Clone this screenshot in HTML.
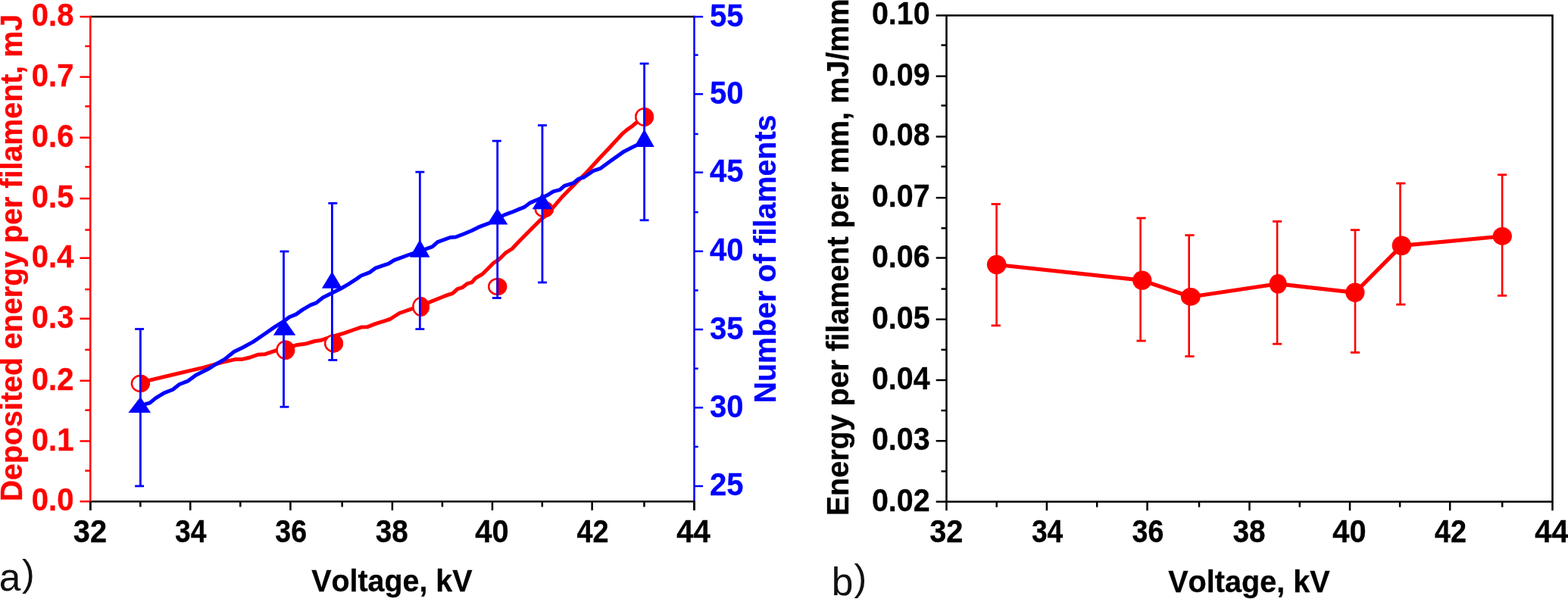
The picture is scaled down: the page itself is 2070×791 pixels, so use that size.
<!DOCTYPE html>
<html lang="en">
<head>
<meta charset="utf-8">
<title>Deposited energy per filament and number of filaments vs voltage</title>
<style>
html,body{margin:0;padding:0;background:#ffffff;}
body{width:2070px;height:791px;overflow:hidden;}
svg{display:block;position:absolute;left:0;top:0;}
text{white-space:pre;font-kerning:none;}
</style>
</head>
<body>
<svg width="2070" height="791" viewBox="0 0 2070 791">
<rect x="0" y="0" width="2070" height="791" fill="#ffffff"/>
<g id="p1-red">
<polyline fill="none" stroke="#ff0000" stroke-width="5.0" stroke-linejoin="round" stroke-linecap="round" points="185.3,506.4 196.4,502.4 230.6,494.2 268.5,485.4 293.7,478.4 310.2,474.6 319.0,474.6 330.0,472.0 341.2,468.2 350.1,467.7 364.2,462.9 376.7,460.0 390.8,455.8 403.2,454.1 415.6,450.5 422.7,449.6 433.3,446.1 444.0,443.0 454.5,439.9 466.9,435.5 476.8,432.1 484.8,431.8 495.4,427.7 514.9,421.5 527.3,413.5 545.0,407.3 555.5,403.5 566.2,399.4 583.9,392.3 590.0,389.9 597.6,387.3 603.9,381.6 610.3,379.7 616.6,374.7 622.9,372.8 628.0,367.1 636.8,362.0 644.4,354.4 652.0,346.8 658.4,343.0 667.2,334.2 676.1,328.5 686.2,317.7 697.6,306.3 713.8,290.1 721.3,284.0 732.0,271.9 742.1,260.0 760.3,241.6 775.5,226.5 790.7,209.8 805.8,193.8 821.0,177.2 827.1,171.9 834.7,166.5 840.0,162.0 850.5,154.4"/>
<ellipse cx="185.30" cy="506.45" rx="11.40" ry="10.45" fill="#ffffff" stroke="#ff0000" stroke-width="2.5"/>
<path d="M185.30,496.00 A11.40,10.45 0 0 1 185.30,516.90 Z" fill="#ff0000" stroke="#ff0000" stroke-width="2.5"/>
<ellipse cx="376.70" cy="462.20" rx="11.25" ry="11.55" fill="#ffffff" stroke="#ff0000" stroke-width="2.5"/>
<path d="M376.70,450.65 A11.25,11.55 0 0 1 376.70,473.75 Z" fill="#ff0000" stroke="#ff0000" stroke-width="2.5"/>
<ellipse cx="440.45" cy="453.50" rx="11.35" ry="10.90" fill="#ffffff" stroke="#ff0000" stroke-width="2.5"/>
<path d="M440.45,442.60 A11.35,10.90 0 0 1 440.45,464.40 Z" fill="#ff0000" stroke="#ff0000" stroke-width="2.5"/>
<ellipse cx="555.50" cy="405.00" rx="10.15" ry="11.65" fill="#ffffff" stroke="#ff0000" stroke-width="2.5"/>
<path d="M555.50,393.35 A10.15,11.65 0 0 1 555.50,416.65 Z" fill="#ff0000" stroke="#ff0000" stroke-width="2.5"/>
<ellipse cx="656.60" cy="378.55" rx="11.40" ry="10.25" fill="#ffffff" stroke="#ff0000" stroke-width="2.5"/>
<path d="M656.60,368.30 A11.40,10.25 0 0 1 656.60,388.80 Z" fill="#ff0000" stroke="#ff0000" stroke-width="2.5"/>
<ellipse cx="718.30" cy="276.40" rx="11.40" ry="9.75" fill="#ffffff" stroke="#ff0000" stroke-width="2.5"/>
<path d="M718.30,266.65 A11.40,9.75 0 0 1 718.30,286.15 Z" fill="#ff0000" stroke="#ff0000" stroke-width="2.5"/>
<ellipse cx="850.50" cy="154.40" rx="11.25" ry="11.25" fill="#ffffff" stroke="#ff0000" stroke-width="2.5"/>
<path d="M850.50,143.15 A11.25,11.25 0 0 1 850.50,165.65 Z" fill="#ff0000" stroke="#ff0000" stroke-width="2.5"/>
</g>
<g id="p1-blue">
<polyline fill="none" stroke="#0000ff" stroke-width="5.0" stroke-linejoin="round" stroke-linecap="round" points="185.4,538.0 192.6,533.4 197.7,532.1 205.3,525.8 216.7,518.9 228.0,514.5 236.9,507.5 248.2,503.1 258.4,495.5 274.8,487.3 284.9,481.0 296.3,474.6 308.9,464.5 320.3,459.0 334.2,451.4 348.3,441.7 362.5,431.9 374.9,424.0 381.9,418.7 390.8,415.1 399.6,408.9 410.3,402.7 417.3,400.1 426.2,393.0 438.6,386.8 449.2,381.5 459.8,375.3 470.6,368.4 476.8,364.0 488.3,359.6 495.4,354.2 513.1,348.1 520.2,343.6 539.6,336.5 554.3,331.5 570.6,325.9 577.7,319.7 594.5,313.5 601.6,313.0 612.1,309.0 622.8,304.5 631.9,299.9 644.0,295.4 656.7,289.5 665.2,284.0 675.8,280.2 684.9,276.4 692.5,273.4 699.3,268.1 706.2,265.0 716.0,261.0 724.4,256.7 730.4,252.9 739.1,250.7 745.2,245.4 757.3,241.6 763.4,236.3 771.0,234.0 783.1,225.7 792.2,222.7 805.8,212.8 824.0,199.9 836.2,193.8 850.6,187.0"/>
<line x1="185.40" y1="434.50" x2="185.40" y2="641.90" stroke="#0000ff" stroke-width="2.8" stroke-linecap="butt"/>
<line x1="178.15" y1="434.50" x2="190.05" y2="434.50" stroke="#0000ff" stroke-width="2.8" stroke-linecap="butt"/>
<line x1="178.15" y1="641.90" x2="190.05" y2="641.90" stroke="#0000ff" stroke-width="2.8" stroke-linecap="butt"/>
<polygon points="185.40,524.00 199.00,545.10 169.40,545.10" fill="#0000ff"/>
<line x1="374.50" y1="332.00" x2="374.50" y2="537.30" stroke="#0000ff" stroke-width="2.8" stroke-linecap="butt"/>
<line x1="369.55" y1="332.00" x2="381.45" y2="332.00" stroke="#0000ff" stroke-width="2.8" stroke-linecap="butt"/>
<line x1="369.55" y1="537.30" x2="381.45" y2="537.30" stroke="#0000ff" stroke-width="2.8" stroke-linecap="butt"/>
<polygon points="374.70,420.40 390.30,442.80 360.90,442.80" fill="#0000ff"/>
<line x1="438.40" y1="268.40" x2="438.40" y2="475.50" stroke="#0000ff" stroke-width="2.8" stroke-linecap="butt"/>
<line x1="433.35" y1="268.40" x2="445.25" y2="268.40" stroke="#0000ff" stroke-width="2.8" stroke-linecap="butt"/>
<line x1="433.35" y1="475.50" x2="445.25" y2="475.50" stroke="#0000ff" stroke-width="2.8" stroke-linecap="butt"/>
<polygon points="438.40,358.40 451.70,380.75 424.90,380.75" fill="#0000ff"/>
<line x1="554.35" y1="227.10" x2="554.35" y2="434.60" stroke="#0000ff" stroke-width="2.8" stroke-linecap="butt"/>
<line x1="548.40" y1="227.10" x2="560.30" y2="227.10" stroke="#0000ff" stroke-width="2.8" stroke-linecap="butt"/>
<line x1="548.40" y1="434.60" x2="560.30" y2="434.60" stroke="#0000ff" stroke-width="2.8" stroke-linecap="butt"/>
<polygon points="554.30,316.30 567.50,339.85 540.90,339.85" fill="#0000ff"/>
<line x1="656.70" y1="186.10" x2="656.70" y2="393.50" stroke="#0000ff" stroke-width="2.8" stroke-linecap="butt"/>
<line x1="649.85" y1="186.10" x2="661.75" y2="186.10" stroke="#0000ff" stroke-width="2.8" stroke-linecap="butt"/>
<line x1="649.85" y1="393.50" x2="661.75" y2="393.50" stroke="#0000ff" stroke-width="2.8" stroke-linecap="butt"/>
<polygon points="656.70,274.70 670.30,296.60 642.90,296.60" fill="#0000ff"/>
<line x1="715.95" y1="165.50" x2="715.95" y2="373.00" stroke="#0000ff" stroke-width="2.8" stroke-linecap="butt"/>
<line x1="710.00" y1="165.50" x2="721.90" y2="165.50" stroke="#0000ff" stroke-width="2.8" stroke-linecap="butt"/>
<line x1="710.00" y1="373.00" x2="721.90" y2="373.00" stroke="#0000ff" stroke-width="2.8" stroke-linecap="butt"/>
<polygon points="716.00,254.20 729.25,276.35 702.70,276.35" fill="#0000ff"/>
<line x1="850.60" y1="84.00" x2="850.60" y2="290.80" stroke="#0000ff" stroke-width="2.8" stroke-linecap="butt"/>
<line x1="844.65" y1="84.00" x2="856.55" y2="84.00" stroke="#0000ff" stroke-width="2.8" stroke-linecap="butt"/>
<line x1="844.65" y1="290.80" x2="856.55" y2="290.80" stroke="#0000ff" stroke-width="2.8" stroke-linecap="butt"/>
<polygon points="850.60,170.40 863.75,194.00 837.40,194.00" fill="#0000ff"/>
</g>
<g id="p1-axes">
<line x1="119.30" y1="22.10" x2="916.50" y2="22.10" stroke="#000000" stroke-width="2.5" stroke-linecap="butt"/>
<line x1="119.30" y1="662.20" x2="916.50" y2="662.20" stroke="#000000" stroke-width="2.5" stroke-linecap="butt"/>
<line x1="119.30" y1="662.20" x2="119.30" y2="673.90" stroke="#000000" stroke-width="2.5" stroke-linecap="butt"/>
<line x1="185.33" y1="662.20" x2="185.33" y2="669.40" stroke="#000000" stroke-width="2.5" stroke-linecap="butt"/>
<line x1="251.27" y1="662.20" x2="251.27" y2="673.90" stroke="#000000" stroke-width="2.5" stroke-linecap="butt"/>
<line x1="317.30" y1="662.20" x2="317.30" y2="669.40" stroke="#000000" stroke-width="2.5" stroke-linecap="butt"/>
<line x1="383.43" y1="662.20" x2="383.43" y2="673.90" stroke="#000000" stroke-width="2.5" stroke-linecap="butt"/>
<line x1="451.67" y1="662.20" x2="451.67" y2="669.40" stroke="#000000" stroke-width="2.5" stroke-linecap="butt"/>
<line x1="517.90" y1="662.20" x2="517.90" y2="673.90" stroke="#000000" stroke-width="2.5" stroke-linecap="butt"/>
<line x1="583.93" y1="662.20" x2="583.93" y2="669.40" stroke="#000000" stroke-width="2.5" stroke-linecap="butt"/>
<line x1="649.97" y1="662.20" x2="649.97" y2="673.90" stroke="#000000" stroke-width="2.5" stroke-linecap="butt"/>
<line x1="715.80" y1="662.20" x2="715.80" y2="669.40" stroke="#000000" stroke-width="2.5" stroke-linecap="butt"/>
<line x1="781.63" y1="662.20" x2="781.63" y2="673.90" stroke="#000000" stroke-width="2.5" stroke-linecap="butt"/>
<line x1="850.47" y1="662.20" x2="850.47" y2="669.40" stroke="#000000" stroke-width="2.5" stroke-linecap="butt"/>
<line x1="916.50" y1="662.20" x2="916.50" y2="673.90" stroke="#000000" stroke-width="2.5" stroke-linecap="butt"/>
<line x1="119.30" y1="20.85" x2="119.30" y2="663.45" stroke="#ff0000" stroke-width="2.5" stroke-linecap="butt"/>
<line x1="105.50" y1="662.20" x2="119.30" y2="662.20" stroke="#ff0000" stroke-width="2.5" stroke-linecap="butt"/>
<line x1="112.30" y1="621.59" x2="119.30" y2="621.59" stroke="#ff0000" stroke-width="2.5" stroke-linecap="butt"/>
<line x1="105.50" y1="582.49" x2="119.30" y2="582.49" stroke="#ff0000" stroke-width="2.5" stroke-linecap="butt"/>
<line x1="112.30" y1="541.58" x2="119.30" y2="541.58" stroke="#ff0000" stroke-width="2.5" stroke-linecap="butt"/>
<line x1="105.50" y1="502.78" x2="119.30" y2="502.78" stroke="#ff0000" stroke-width="2.5" stroke-linecap="butt"/>
<line x1="112.30" y1="461.87" x2="119.30" y2="461.87" stroke="#ff0000" stroke-width="2.5" stroke-linecap="butt"/>
<line x1="105.50" y1="420.76" x2="119.30" y2="420.76" stroke="#ff0000" stroke-width="2.5" stroke-linecap="butt"/>
<line x1="112.30" y1="382.16" x2="119.30" y2="382.16" stroke="#ff0000" stroke-width="2.5" stroke-linecap="butt"/>
<line x1="105.50" y1="340.75" x2="119.30" y2="340.75" stroke="#ff0000" stroke-width="2.5" stroke-linecap="butt"/>
<line x1="112.30" y1="303.54" x2="119.30" y2="303.54" stroke="#ff0000" stroke-width="2.5" stroke-linecap="butt"/>
<line x1="105.50" y1="262.14" x2="119.30" y2="262.14" stroke="#ff0000" stroke-width="2.5" stroke-linecap="butt"/>
<line x1="112.30" y1="220.43" x2="119.30" y2="220.43" stroke="#ff0000" stroke-width="2.5" stroke-linecap="butt"/>
<line x1="105.50" y1="181.72" x2="119.30" y2="181.72" stroke="#ff0000" stroke-width="2.5" stroke-linecap="butt"/>
<line x1="112.30" y1="140.42" x2="119.30" y2="140.42" stroke="#ff0000" stroke-width="2.5" stroke-linecap="butt"/>
<line x1="105.50" y1="101.61" x2="119.30" y2="101.61" stroke="#ff0000" stroke-width="2.5" stroke-linecap="butt"/>
<line x1="112.30" y1="61.01" x2="119.30" y2="61.01" stroke="#ff0000" stroke-width="2.5" stroke-linecap="butt"/>
<line x1="105.50" y1="22.10" x2="119.30" y2="22.10" stroke="#ff0000" stroke-width="2.5" stroke-linecap="butt"/>
<line x1="916.50" y1="20.85" x2="916.50" y2="662.20" stroke="#0000ff" stroke-width="2.5" stroke-linecap="butt"/>
<line x1="916.50" y1="641.95" x2="928.10" y2="641.95" stroke="#0000ff" stroke-width="2.5" stroke-linecap="butt"/>
<line x1="916.50" y1="589.93" x2="921.70" y2="589.93" stroke="#0000ff" stroke-width="2.5" stroke-linecap="butt"/>
<line x1="916.50" y1="538.31" x2="928.10" y2="538.31" stroke="#0000ff" stroke-width="2.5" stroke-linecap="butt"/>
<line x1="916.50" y1="486.69" x2="921.70" y2="486.69" stroke="#0000ff" stroke-width="2.5" stroke-linecap="butt"/>
<line x1="916.50" y1="435.07" x2="928.10" y2="435.07" stroke="#0000ff" stroke-width="2.5" stroke-linecap="butt"/>
<line x1="916.50" y1="383.45" x2="921.70" y2="383.45" stroke="#0000ff" stroke-width="2.5" stroke-linecap="butt"/>
<line x1="916.50" y1="331.83" x2="928.10" y2="331.83" stroke="#0000ff" stroke-width="2.5" stroke-linecap="butt"/>
<line x1="916.50" y1="280.20" x2="921.70" y2="280.20" stroke="#0000ff" stroke-width="2.5" stroke-linecap="butt"/>
<line x1="916.50" y1="227.68" x2="928.10" y2="227.68" stroke="#0000ff" stroke-width="2.5" stroke-linecap="butt"/>
<line x1="916.50" y1="176.96" x2="921.70" y2="176.96" stroke="#0000ff" stroke-width="2.5" stroke-linecap="butt"/>
<line x1="916.50" y1="124.24" x2="928.10" y2="124.24" stroke="#0000ff" stroke-width="2.5" stroke-linecap="butt"/>
<line x1="916.50" y1="72.62" x2="921.70" y2="72.62" stroke="#0000ff" stroke-width="2.5" stroke-linecap="butt"/>
<line x1="916.50" y1="22.10" x2="928.10" y2="22.10" stroke="#0000ff" stroke-width="2.5" stroke-linecap="butt"/>
<line x1="119.30" y1="662.20" x2="119.30" y2="673.90" stroke="#000000" stroke-width="2.5" stroke-linecap="butt"/>
<line x1="916.50" y1="660.95" x2="916.50" y2="673.90" stroke="#000000" stroke-width="2.5" stroke-linecap="butt"/>
</g>
<g id="p1-labels">
<text transform="translate(97.40 674.40) scale(1.0 1.04)" fill="#ff0000" stroke="#ff0000" stroke-width="0.3" stroke-linejoin="round" text-anchor="end" font-size="40" font-weight="bold" font-family='"Liberation Sans", sans-serif'>0.0</text>
<text transform="translate(97.40 594.69) scale(1.0 1.04)" fill="#ff0000" stroke="#ff0000" stroke-width="0.3" stroke-linejoin="round" text-anchor="end" font-size="40" font-weight="bold" font-family='"Liberation Sans", sans-serif'>0.1</text>
<text transform="translate(97.40 514.98) scale(1.0 1.04)" fill="#ff0000" stroke="#ff0000" stroke-width="0.3" stroke-linejoin="round" text-anchor="end" font-size="40" font-weight="bold" font-family='"Liberation Sans", sans-serif'>0.2</text>
<text transform="translate(97.40 432.96) scale(1.0 1.04)" fill="#ff0000" stroke="#ff0000" stroke-width="0.3" stroke-linejoin="round" text-anchor="end" font-size="40" font-weight="bold" font-family='"Liberation Sans", sans-serif'>0.3</text>
<text transform="translate(97.40 352.95) scale(1.0 1.04)" fill="#ff0000" stroke="#ff0000" stroke-width="0.3" stroke-linejoin="round" text-anchor="end" font-size="40" font-weight="bold" font-family='"Liberation Sans", sans-serif'>0.4</text>
<text transform="translate(97.40 274.34) scale(1.0 1.04)" fill="#ff0000" stroke="#ff0000" stroke-width="0.3" stroke-linejoin="round" text-anchor="end" font-size="40" font-weight="bold" font-family='"Liberation Sans", sans-serif'>0.5</text>
<text transform="translate(97.40 193.92) scale(1.0 1.04)" fill="#ff0000" stroke="#ff0000" stroke-width="0.3" stroke-linejoin="round" text-anchor="end" font-size="40" font-weight="bold" font-family='"Liberation Sans", sans-serif'>0.6</text>
<text transform="translate(97.40 113.81) scale(1.0 1.04)" fill="#ff0000" stroke="#ff0000" stroke-width="0.3" stroke-linejoin="round" text-anchor="end" font-size="40" font-weight="bold" font-family='"Liberation Sans", sans-serif'>0.7</text>
<text transform="translate(97.40 34.30) scale(1.0 1.04)" fill="#ff0000" stroke="#ff0000" stroke-width="0.3" stroke-linejoin="round" text-anchor="end" font-size="40" font-weight="bold" font-family='"Liberation Sans", sans-serif'>0.8</text>
<text transform="translate(936.90 654.05) scale(1.0 1.04)" fill="#0000ff" stroke="#0000ff" stroke-width="0.3" stroke-linejoin="round" text-anchor="start" font-size="40" font-weight="bold" font-family='"Liberation Sans", sans-serif'>25</text>
<text transform="translate(936.90 550.81) scale(1.0 1.04)" fill="#0000ff" stroke="#0000ff" stroke-width="0.3" stroke-linejoin="round" text-anchor="start" font-size="40" font-weight="bold" font-family='"Liberation Sans", sans-serif'>30</text>
<text transform="translate(936.90 447.57) scale(1.0 1.04)" fill="#0000ff" stroke="#0000ff" stroke-width="0.3" stroke-linejoin="round" text-anchor="start" font-size="40" font-weight="bold" font-family='"Liberation Sans", sans-serif'>35</text>
<text transform="translate(936.90 344.33) scale(1.0 1.04)" fill="#0000ff" stroke="#0000ff" stroke-width="0.3" stroke-linejoin="round" text-anchor="start" font-size="40" font-weight="bold" font-family='"Liberation Sans", sans-serif'>40</text>
<text transform="translate(936.90 240.38) scale(1.0 1.04)" fill="#0000ff" stroke="#0000ff" stroke-width="0.3" stroke-linejoin="round" text-anchor="start" font-size="40" font-weight="bold" font-family='"Liberation Sans", sans-serif'>45</text>
<text transform="translate(936.90 136.94) scale(1.0 1.04)" fill="#0000ff" stroke="#0000ff" stroke-width="0.3" stroke-linejoin="round" text-anchor="start" font-size="40" font-weight="bold" font-family='"Liberation Sans", sans-serif'>50</text>
<text transform="translate(936.90 34.60) scale(1.0 1.04)" fill="#0000ff" stroke="#0000ff" stroke-width="0.3" stroke-linejoin="round" text-anchor="start" font-size="40" font-weight="bold" font-family='"Liberation Sans", sans-serif'>55</text>
<text transform="translate(118.94 715.70) scale(0.995 1.05)" fill="#000000" stroke="#000000" stroke-width="0.3" stroke-linejoin="round" text-anchor="middle" font-size="40" font-weight="bold" font-family='"Liberation Sans", sans-serif'>32</text>
<text transform="translate(251.77 715.70) scale(0.93 1.05)" fill="#000000" stroke="#000000" stroke-width="0.3" stroke-linejoin="round" text-anchor="middle" font-size="40" font-weight="bold" font-family='"Liberation Sans", sans-serif'>34</text>
<text transform="translate(384.24 715.70) scale(0.94 1.05)" fill="#000000" stroke="#000000" stroke-width="0.3" stroke-linejoin="round" text-anchor="middle" font-size="40" font-weight="bold" font-family='"Liberation Sans", sans-serif'>36</text>
<text transform="translate(517.26 715.70) scale(0.97 1.05)" fill="#000000" stroke="#000000" stroke-width="0.3" stroke-linejoin="round" text-anchor="middle" font-size="40" font-weight="bold" font-family='"Liberation Sans", sans-serif'>38</text>
<text transform="translate(649.42 715.70) scale(0.995 1.05)" fill="#000000" stroke="#000000" stroke-width="0.3" stroke-linejoin="round" text-anchor="middle" font-size="40" font-weight="bold" font-family='"Liberation Sans", sans-serif'>40</text>
<text transform="translate(782.47 715.70) scale(0.945 1.05)" fill="#000000" stroke="#000000" stroke-width="0.3" stroke-linejoin="round" text-anchor="middle" font-size="40" font-weight="bold" font-family='"Liberation Sans", sans-serif'>42</text>
<text transform="translate(915.50 715.70) scale(1.0 1.05)" fill="#000000" stroke="#000000" stroke-width="0.3" stroke-linejoin="round" text-anchor="middle" font-size="40" font-weight="bold" font-family='"Liberation Sans", sans-serif'>44</text>
<text transform="translate(28.50 340.60) rotate(-90) scale(0.985 1.0)" fill="#ff0000" stroke="#ff0000" stroke-width="0.3" stroke-linejoin="round" text-anchor="middle" font-size="40" font-weight="bold" font-family='"Liberation Sans", sans-serif'>Deposited energy per filament, mJ</text>
<text transform="translate(1024.20 342.00) rotate(-90) scale(0.985 1.0)" fill="#0000ff" stroke="#0000ff" stroke-width="0.3" stroke-linejoin="round" text-anchor="middle" font-size="40" font-weight="bold" font-family='"Liberation Sans", sans-serif'>Number of filaments</text>
<text transform="translate(517.35 781.00) scale(0.985 1.015)" fill="#000000" stroke="#000000" stroke-width="0.3" stroke-linejoin="round" text-anchor="middle" font-size="40" font-weight="bold" font-family='"Liberation Sans", sans-serif'>Voltage, kV</text>
<text fill="#111111" font-size="51.5" font-weight="normal" font-family='"Liberation Sans", sans-serif'><tspan x="-1.3" y="779.8">a</tspan><tspan x="28.9" y="774.1" font-size="50.1">)</tspan></text>
</g>
<g id="p2-series">
<polyline fill="none" stroke="#ff0000" stroke-width="5.2" stroke-linejoin="round" points="1315.7,349.5 1507.8,370.2 1571.8,392.0 1687.2,374.8 1788.9,386.3 1850.4,324.4 1983.3,312.0"/>
<line x1="1315.60" y1="269.50" x2="1315.60" y2="429.90" stroke="#ff0000" stroke-width="2.6" stroke-linecap="butt"/>
<line x1="1308.60" y1="269.50" x2="1320.80" y2="269.50" stroke="#ff0000" stroke-width="2.8" stroke-linecap="butt"/>
<line x1="1308.60" y1="429.90" x2="1320.80" y2="429.90" stroke="#ff0000" stroke-width="2.8" stroke-linecap="butt"/>
<ellipse cx="1315.68" cy="349.46" rx="12.78" ry="12.62" fill="#ff0000"/>
<line x1="1505.60" y1="288.00" x2="1505.60" y2="450.10" stroke="#ff0000" stroke-width="2.6" stroke-linecap="butt"/>
<line x1="1500.50" y1="288.00" x2="1512.70" y2="288.00" stroke="#ff0000" stroke-width="2.8" stroke-linecap="butt"/>
<line x1="1500.50" y1="450.10" x2="1512.70" y2="450.10" stroke="#ff0000" stroke-width="2.8" stroke-linecap="butt"/>
<ellipse cx="1507.83" cy="370.22" rx="12.62" ry="12.62" fill="#ff0000"/>
<line x1="1569.70" y1="310.60" x2="1569.70" y2="470.60" stroke="#ff0000" stroke-width="2.6" stroke-linecap="butt"/>
<line x1="1564.40" y1="310.60" x2="1576.60" y2="310.60" stroke="#ff0000" stroke-width="2.8" stroke-linecap="butt"/>
<line x1="1564.40" y1="470.60" x2="1576.60" y2="470.60" stroke="#ff0000" stroke-width="2.8" stroke-linecap="butt"/>
<ellipse cx="1571.80" cy="391.96" rx="12.90" ry="11.85" fill="#ff0000"/>
<line x1="1686.10" y1="292.40" x2="1686.10" y2="454.20" stroke="#ff0000" stroke-width="2.6" stroke-linecap="butt"/>
<line x1="1680.00" y1="292.40" x2="1692.20" y2="292.40" stroke="#ff0000" stroke-width="2.8" stroke-linecap="butt"/>
<line x1="1680.00" y1="454.20" x2="1692.20" y2="454.20" stroke="#ff0000" stroke-width="2.8" stroke-linecap="butt"/>
<ellipse cx="1687.19" cy="374.84" rx="11.53" ry="12.78" fill="#ff0000"/>
<line x1="1789.00" y1="303.70" x2="1789.00" y2="465.50" stroke="#ff0000" stroke-width="2.6" stroke-linecap="butt"/>
<line x1="1782.90" y1="303.70" x2="1795.10" y2="303.70" stroke="#ff0000" stroke-width="2.8" stroke-linecap="butt"/>
<line x1="1782.90" y1="465.50" x2="1795.10" y2="465.50" stroke="#ff0000" stroke-width="2.8" stroke-linecap="butt"/>
<ellipse cx="1788.89" cy="386.28" rx="12.60" ry="12.70" fill="#ff0000"/>
<line x1="1848.50" y1="242.10" x2="1848.50" y2="402.10" stroke="#ff0000" stroke-width="2.6" stroke-linecap="butt"/>
<line x1="1843.20" y1="242.10" x2="1855.40" y2="242.10" stroke="#ff0000" stroke-width="2.8" stroke-linecap="butt"/>
<line x1="1843.20" y1="402.10" x2="1855.40" y2="402.10" stroke="#ff0000" stroke-width="2.8" stroke-linecap="butt"/>
<ellipse cx="1850.38" cy="324.36" rx="12.70" ry="12.78" fill="#ff0000"/>
<line x1="1983.15" y1="230.80" x2="1983.15" y2="390.40" stroke="#ff0000" stroke-width="2.6" stroke-linecap="butt"/>
<line x1="1977.05" y1="230.80" x2="1989.25" y2="230.80" stroke="#ff0000" stroke-width="2.8" stroke-linecap="butt"/>
<line x1="1977.05" y1="390.40" x2="1989.25" y2="390.40" stroke="#ff0000" stroke-width="2.8" stroke-linecap="butt"/>
<ellipse cx="1983.30" cy="311.96" rx="12.62" ry="11.85" fill="#ff0000"/>
</g>
<g id="p2-axes">
<rect x="1249.50" y="20.40" width="800.00" height="642.10" fill="none" stroke="#000000" stroke-width="2.5"/>
<line x1="1249.50" y1="662.50" x2="1249.50" y2="674.20" stroke="#000000" stroke-width="2.5" stroke-linecap="butt"/>
<line x1="1315.77" y1="662.50" x2="1315.77" y2="669.70" stroke="#000000" stroke-width="2.5" stroke-linecap="butt"/>
<line x1="1381.93" y1="662.50" x2="1381.93" y2="674.20" stroke="#000000" stroke-width="2.5" stroke-linecap="butt"/>
<line x1="1448.20" y1="662.50" x2="1448.20" y2="669.70" stroke="#000000" stroke-width="2.5" stroke-linecap="butt"/>
<line x1="1514.57" y1="662.50" x2="1514.57" y2="674.20" stroke="#000000" stroke-width="2.5" stroke-linecap="butt"/>
<line x1="1583.03" y1="662.50" x2="1583.03" y2="669.70" stroke="#000000" stroke-width="2.5" stroke-linecap="butt"/>
<line x1="1649.50" y1="662.50" x2="1649.50" y2="674.20" stroke="#000000" stroke-width="2.5" stroke-linecap="butt"/>
<line x1="1715.77" y1="662.50" x2="1715.77" y2="669.70" stroke="#000000" stroke-width="2.5" stroke-linecap="butt"/>
<line x1="1782.03" y1="662.50" x2="1782.03" y2="674.20" stroke="#000000" stroke-width="2.5" stroke-linecap="butt"/>
<line x1="1848.10" y1="662.50" x2="1848.10" y2="669.70" stroke="#000000" stroke-width="2.5" stroke-linecap="butt"/>
<line x1="1914.17" y1="662.50" x2="1914.17" y2="674.20" stroke="#000000" stroke-width="2.5" stroke-linecap="butt"/>
<line x1="1983.23" y1="662.50" x2="1983.23" y2="669.70" stroke="#000000" stroke-width="2.5" stroke-linecap="butt"/>
<line x1="2049.50" y1="662.50" x2="2049.50" y2="674.20" stroke="#000000" stroke-width="2.5" stroke-linecap="butt"/>
<line x1="1235.70" y1="662.50" x2="1249.50" y2="662.50" stroke="#000000" stroke-width="2.5" stroke-linecap="butt"/>
<line x1="1242.50" y1="622.37" x2="1249.50" y2="622.37" stroke="#000000" stroke-width="2.5" stroke-linecap="butt"/>
<line x1="1235.70" y1="582.24" x2="1249.50" y2="582.24" stroke="#000000" stroke-width="2.5" stroke-linecap="butt"/>
<line x1="1242.50" y1="542.11" x2="1249.50" y2="542.11" stroke="#000000" stroke-width="2.5" stroke-linecap="butt"/>
<line x1="1235.70" y1="501.98" x2="1249.50" y2="501.98" stroke="#000000" stroke-width="2.5" stroke-linecap="butt"/>
<line x1="1242.50" y1="461.84" x2="1249.50" y2="461.84" stroke="#000000" stroke-width="2.5" stroke-linecap="butt"/>
<line x1="1235.70" y1="421.71" x2="1249.50" y2="421.71" stroke="#000000" stroke-width="2.5" stroke-linecap="butt"/>
<line x1="1242.50" y1="381.58" x2="1249.50" y2="381.58" stroke="#000000" stroke-width="2.5" stroke-linecap="butt"/>
<line x1="1235.70" y1="340.55" x2="1249.50" y2="340.55" stroke="#000000" stroke-width="2.5" stroke-linecap="butt"/>
<line x1="1242.50" y1="301.32" x2="1249.50" y2="301.32" stroke="#000000" stroke-width="2.5" stroke-linecap="butt"/>
<line x1="1235.70" y1="261.19" x2="1249.50" y2="261.19" stroke="#000000" stroke-width="2.5" stroke-linecap="butt"/>
<line x1="1242.50" y1="219.96" x2="1249.50" y2="219.96" stroke="#000000" stroke-width="2.5" stroke-linecap="butt"/>
<line x1="1235.70" y1="180.42" x2="1249.50" y2="180.42" stroke="#000000" stroke-width="2.5" stroke-linecap="butt"/>
<line x1="1242.50" y1="139.39" x2="1249.50" y2="139.39" stroke="#000000" stroke-width="2.5" stroke-linecap="butt"/>
<line x1="1235.70" y1="100.66" x2="1249.50" y2="100.66" stroke="#000000" stroke-width="2.5" stroke-linecap="butt"/>
<line x1="1242.50" y1="59.63" x2="1249.50" y2="59.63" stroke="#000000" stroke-width="2.5" stroke-linecap="butt"/>
<line x1="1235.70" y1="20.40" x2="1249.50" y2="20.40" stroke="#000000" stroke-width="2.5" stroke-linecap="butt"/>
</g>
<g id="p2-labels">
<text transform="translate(1227.60 674.50) scale(0.985 1.04)" fill="#000000" stroke="#000000" stroke-width="0.3" stroke-linejoin="round" text-anchor="end" font-size="40" font-weight="bold" font-family='"Liberation Sans", sans-serif'>0.02</text>
<text transform="translate(1227.60 594.24) scale(0.985 1.04)" fill="#000000" stroke="#000000" stroke-width="0.3" stroke-linejoin="round" text-anchor="end" font-size="40" font-weight="bold" font-family='"Liberation Sans", sans-serif'>0.03</text>
<text transform="translate(1227.60 513.98) scale(0.985 1.04)" fill="#000000" stroke="#000000" stroke-width="0.3" stroke-linejoin="round" text-anchor="end" font-size="40" font-weight="bold" font-family='"Liberation Sans", sans-serif'>0.04</text>
<text transform="translate(1227.60 433.71) scale(0.985 1.04)" fill="#000000" stroke="#000000" stroke-width="0.3" stroke-linejoin="round" text-anchor="end" font-size="40" font-weight="bold" font-family='"Liberation Sans", sans-serif'>0.05</text>
<text transform="translate(1227.60 352.55) scale(0.985 1.04)" fill="#000000" stroke="#000000" stroke-width="0.3" stroke-linejoin="round" text-anchor="end" font-size="40" font-weight="bold" font-family='"Liberation Sans", sans-serif'>0.06</text>
<text transform="translate(1227.60 273.19) scale(0.985 1.04)" fill="#000000" stroke="#000000" stroke-width="0.3" stroke-linejoin="round" text-anchor="end" font-size="40" font-weight="bold" font-family='"Liberation Sans", sans-serif'>0.07</text>
<text transform="translate(1227.60 192.42) scale(0.985 1.04)" fill="#000000" stroke="#000000" stroke-width="0.3" stroke-linejoin="round" text-anchor="end" font-size="40" font-weight="bold" font-family='"Liberation Sans", sans-serif'>0.08</text>
<text transform="translate(1227.60 112.66) scale(0.985 1.04)" fill="#000000" stroke="#000000" stroke-width="0.3" stroke-linejoin="round" text-anchor="end" font-size="40" font-weight="bold" font-family='"Liberation Sans", sans-serif'>0.09</text>
<text transform="translate(1227.60 32.40) scale(0.985 1.04)" fill="#000000" stroke="#000000" stroke-width="0.3" stroke-linejoin="round" text-anchor="end" font-size="40" font-weight="bold" font-family='"Liberation Sans", sans-serif'>0.10</text>
<text transform="translate(1249.34 715.80) scale(0.995 1.05)" fill="#000000" stroke="#000000" stroke-width="0.3" stroke-linejoin="round" text-anchor="middle" font-size="40" font-weight="bold" font-family='"Liberation Sans", sans-serif'>32</text>
<text transform="translate(1382.57 715.80) scale(0.93 1.05)" fill="#000000" stroke="#000000" stroke-width="0.3" stroke-linejoin="round" text-anchor="middle" font-size="40" font-weight="bold" font-family='"Liberation Sans", sans-serif'>34</text>
<text transform="translate(1515.44 715.80) scale(0.94 1.05)" fill="#000000" stroke="#000000" stroke-width="0.3" stroke-linejoin="round" text-anchor="middle" font-size="40" font-weight="bold" font-family='"Liberation Sans", sans-serif'>36</text>
<text transform="translate(1649.06 715.80) scale(0.97 1.05)" fill="#000000" stroke="#000000" stroke-width="0.3" stroke-linejoin="round" text-anchor="middle" font-size="40" font-weight="bold" font-family='"Liberation Sans", sans-serif'>38</text>
<text transform="translate(1781.42 715.80) scale(0.995 1.05)" fill="#000000" stroke="#000000" stroke-width="0.3" stroke-linejoin="round" text-anchor="middle" font-size="40" font-weight="bold" font-family='"Liberation Sans", sans-serif'>40</text>
<text transform="translate(1915.07 715.80) scale(0.945 1.05)" fill="#000000" stroke="#000000" stroke-width="0.3" stroke-linejoin="round" text-anchor="middle" font-size="40" font-weight="bold" font-family='"Liberation Sans", sans-serif'>42</text>
<text transform="translate(2048.45 715.80) scale(1.0 1.05)" fill="#000000" stroke="#000000" stroke-width="0.3" stroke-linejoin="round" text-anchor="middle" font-size="40" font-weight="bold" font-family='"Liberation Sans", sans-serif'>44</text>
<text transform="translate(1119.90 681.30) rotate(-90) scale(0.988 1.0)" fill="#000000" stroke="#000000" stroke-width="0.3" stroke-linejoin="round" text-anchor="start" font-size="40" font-weight="bold" font-family='"Liberation Sans", sans-serif'>Energy per filament per mm, mJ/mm</text>
<text transform="translate(1648.90 782.20) scale(0.99 1.015)" fill="#000000" stroke="#000000" stroke-width="0.3" stroke-linejoin="round" text-anchor="middle" font-size="40" font-weight="bold" font-family='"Liberation Sans", sans-serif'>Voltage, kV</text>
<text fill="#111111" font-size="51.5" font-weight="normal" font-family='"Liberation Sans", sans-serif'><tspan x="1097.7" y="785.9">b</tspan><tspan x="1127.6" y="780.4" font-size="50.1">)</tspan></text>
</g>
</svg>
</body>
</html>
